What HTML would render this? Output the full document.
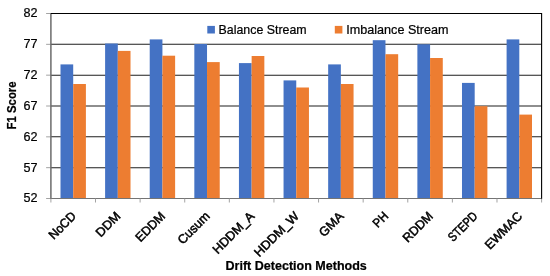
<!DOCTYPE html>
<html lang="en"><head><meta charset="utf-8"><title>Drift Detection Methods - F1 Score</title>
<style>html,body{margin:0;padding:0;background:#fff;}svg{display:block;}text{font-family:"Liberation Sans",sans-serif;fill:#000;stroke:#000;stroke-width:0.22px;}.xl{stroke-width:0.5px;}</style></head><body>
<svg width="550" height="276" viewBox="0 0 550 276">
<rect x="0" y="0" width="550" height="276" fill="#ffffff"/>
<line x1="50.9" y1="44.33" x2="541.6" y2="44.33" stroke="#1f1f1f" stroke-width="1.05"/>
<line x1="50.9" y1="75.17" x2="541.6" y2="75.17" stroke="#1f1f1f" stroke-width="1.05"/>
<line x1="50.9" y1="106.00" x2="541.6" y2="106.00" stroke="#1f1f1f" stroke-width="1.05"/>
<line x1="50.9" y1="136.83" x2="541.6" y2="136.83" stroke="#1f1f1f" stroke-width="1.05"/>
<line x1="50.9" y1="167.67" x2="541.6" y2="167.67" stroke="#1f1f1f" stroke-width="1.05"/>
<line x1="46.1" y1="13.50" x2="50.9" y2="13.50" stroke="#999999" stroke-width="0.9"/>
<line x1="46.1" y1="44.33" x2="50.9" y2="44.33" stroke="#999999" stroke-width="0.9"/>
<line x1="46.1" y1="75.17" x2="50.9" y2="75.17" stroke="#999999" stroke-width="0.9"/>
<line x1="46.1" y1="106.00" x2="50.9" y2="106.00" stroke="#999999" stroke-width="0.9"/>
<line x1="46.1" y1="136.83" x2="50.9" y2="136.83" stroke="#999999" stroke-width="0.9"/>
<line x1="46.1" y1="167.67" x2="50.9" y2="167.67" stroke="#999999" stroke-width="0.9"/>
<line x1="46.1" y1="198.50" x2="50.9" y2="198.50" stroke="#999999" stroke-width="0.9"/>
<rect x="60.50" y="64.4" width="12.7" height="134.10" fill="#4472c4"/>
<rect x="73.20" y="84.0" width="12.7" height="114.50" fill="#ed7d31"/>
<rect x="105.11" y="43.5" width="12.7" height="155.00" fill="#4472c4"/>
<rect x="117.81" y="50.9" width="12.7" height="147.60" fill="#ed7d31"/>
<rect x="149.72" y="39.4" width="12.7" height="159.10" fill="#4472c4"/>
<rect x="162.42" y="55.7" width="12.7" height="142.80" fill="#ed7d31"/>
<rect x="194.33" y="44.0" width="12.7" height="154.50" fill="#4472c4"/>
<rect x="207.03" y="62.1" width="12.7" height="136.40" fill="#ed7d31"/>
<rect x="238.94" y="63.1" width="12.7" height="135.40" fill="#4472c4"/>
<rect x="251.64" y="56.0" width="12.7" height="142.50" fill="#ed7d31"/>
<rect x="283.55" y="80.4" width="12.7" height="118.10" fill="#4472c4"/>
<rect x="296.25" y="87.5" width="12.7" height="111.00" fill="#ed7d31"/>
<rect x="328.16" y="64.4" width="12.7" height="134.10" fill="#4472c4"/>
<rect x="340.86" y="84.0" width="12.7" height="114.50" fill="#ed7d31"/>
<rect x="372.77" y="40.2" width="12.7" height="158.30" fill="#4472c4"/>
<rect x="385.47" y="54.2" width="12.7" height="144.30" fill="#ed7d31"/>
<rect x="417.38" y="44.3" width="12.7" height="154.20" fill="#4472c4"/>
<rect x="430.08" y="58.0" width="12.7" height="140.50" fill="#ed7d31"/>
<rect x="461.99" y="82.9" width="12.7" height="115.60" fill="#4472c4"/>
<rect x="474.69" y="106.2" width="12.7" height="92.30" fill="#ed7d31"/>
<rect x="506.60" y="39.4" width="12.7" height="159.10" fill="#4472c4"/>
<rect x="519.30" y="114.6" width="12.7" height="83.90" fill="#ed7d31"/>
<line x1="50.9" y1="13.0" x2="50.9" y2="199.0" stroke="#6b6b6b" stroke-width="1.5"/>
<line x1="50.199999999999996" y1="198.5" x2="541.6" y2="198.5" stroke="#747474" stroke-width="1.1"/>
<line x1="50.90" y1="198.5" x2="50.90" y2="202.5" stroke="#999999" stroke-width="0.9"/>
<line x1="95.51" y1="198.5" x2="95.51" y2="202.5" stroke="#999999" stroke-width="0.9"/>
<line x1="140.12" y1="198.5" x2="140.12" y2="202.5" stroke="#999999" stroke-width="0.9"/>
<line x1="184.73" y1="198.5" x2="184.73" y2="202.5" stroke="#999999" stroke-width="0.9"/>
<line x1="229.34" y1="198.5" x2="229.34" y2="202.5" stroke="#999999" stroke-width="0.9"/>
<line x1="273.95" y1="198.5" x2="273.95" y2="202.5" stroke="#999999" stroke-width="0.9"/>
<line x1="318.55" y1="198.5" x2="318.55" y2="202.5" stroke="#999999" stroke-width="0.9"/>
<line x1="363.16" y1="198.5" x2="363.16" y2="202.5" stroke="#999999" stroke-width="0.9"/>
<line x1="407.77" y1="198.5" x2="407.77" y2="202.5" stroke="#999999" stroke-width="0.9"/>
<line x1="452.38" y1="198.5" x2="452.38" y2="202.5" stroke="#999999" stroke-width="0.9"/>
<line x1="496.99" y1="198.5" x2="496.99" y2="202.5" stroke="#999999" stroke-width="0.9"/>
<line x1="541.60" y1="198.5" x2="541.60" y2="202.5" stroke="#999999" stroke-width="0.9"/>
<path d="M50.9 13.5 H541.6 V198.7" fill="none" stroke="#000" stroke-width="1.1"/>
<text x="37.6" y="17.45" font-size="12.6" text-anchor="end">82</text>
<text x="37.6" y="48.28" font-size="12.6" text-anchor="end">77</text>
<text x="37.6" y="79.12" font-size="12.6" text-anchor="end">72</text>
<text x="37.6" y="109.95" font-size="12.6" text-anchor="end">67</text>
<text x="37.6" y="140.78" font-size="12.6" text-anchor="end">62</text>
<text x="37.6" y="171.62" font-size="12.6" text-anchor="end">57</text>
<text x="37.6" y="202.45" font-size="12.6" text-anchor="end">52</text>
<rect x="207.3" y="25.9" width="7.6" height="7.6" fill="#4472c4"/>
<text x="218.6" y="34.1" font-size="12.6" textLength="88" lengthAdjust="spacingAndGlyphs">Balance Stream</text>
<rect x="334.8" y="25.9" width="7.6" height="7.6" fill="#ed7d31"/>
<text x="346.3" y="34.1" font-size="12.6" textLength="102.2" lengthAdjust="spacingAndGlyphs">Imbalance Stream</text>
<text class="xl" transform="translate(76.80 217.0) rotate(-45)" font-size="12.6" text-anchor="end" textLength="32.5" lengthAdjust="spacingAndGlyphs">NoCD</text>
<text class="xl" transform="translate(121.41 217.0) rotate(-45)" font-size="12.6" text-anchor="end" textLength="29.2" lengthAdjust="spacingAndGlyphs">DDM</text>
<text class="xl" transform="translate(166.02 217.0) rotate(-45)" font-size="12.6" text-anchor="end" textLength="36.0" lengthAdjust="spacingAndGlyphs">EDDM</text>
<text class="xl" transform="translate(210.63 217.0) rotate(-45)" font-size="12.6" text-anchor="end" textLength="39.6" lengthAdjust="spacingAndGlyphs">Cusum</text>
<text class="xl" transform="translate(255.24 217.0) rotate(-45)" font-size="12.6" text-anchor="end" textLength="53.0" lengthAdjust="spacingAndGlyphs">HDDM_A</text>
<text class="xl" transform="translate(299.85 217.0) rotate(-45)" font-size="12.6" text-anchor="end" textLength="57.35" lengthAdjust="spacingAndGlyphs">HDDM_W</text>
<text class="xl" transform="translate(344.46 217.0) rotate(-45)" font-size="12.6" text-anchor="end" textLength="28.9" lengthAdjust="spacingAndGlyphs">GMA</text>
<text class="xl" transform="translate(389.07 217.0) rotate(-45)" font-size="12.6" text-anchor="end" textLength="15.96" lengthAdjust="spacingAndGlyphs">PH</text>
<text class="xl" transform="translate(433.68 217.0) rotate(-45)" font-size="12.6" text-anchor="end" textLength="36.8" lengthAdjust="spacingAndGlyphs">RDDM</text>
<text class="xl" transform="translate(478.29 217.0) rotate(-45)" font-size="12.6" text-anchor="end" textLength="35.84" lengthAdjust="spacingAndGlyphs">STEPD</text>
<text class="xl" transform="translate(522.90 217.0) rotate(-45)" font-size="12.6" text-anchor="end" textLength="46.7" lengthAdjust="spacingAndGlyphs">EWMAC</text>
<text x="296.2" y="269.5" font-size="12.3" stroke="none" font-weight="bold" text-anchor="middle" textLength="141.3" lengthAdjust="spacingAndGlyphs">Drift Detection Methods</text>
<text transform="translate(15.7 105.4) rotate(-90)" font-size="12.3" stroke="none" font-weight="bold" text-anchor="middle" textLength="48" lengthAdjust="spacingAndGlyphs">F1 Score</text>
</svg></body></html>
